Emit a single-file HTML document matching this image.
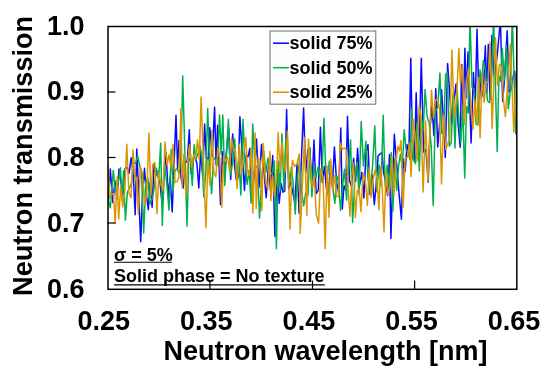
<!DOCTYPE html>
<html><head><meta charset="utf-8">
<style>
html,body{margin:0;padding:0;background:#fff;}
svg{display:block;}
text{font-family:"Liberation Sans",sans-serif;font-weight:bold;fill:#000;}
</style></head><body>
<svg width="550" height="372" viewBox="0 0 550 372">
<rect width="550" height="372" fill="#fff"/>
<defs><clipPath id="pc"><rect x="108" y="26.5" width="408.8" height="262.8"/></clipPath></defs>
<g clip-path="url(#pc)" fill="none" stroke-width="1.5" stroke-linejoin="round">
<polyline stroke="#0a0aff" points="108.0,204.0 108.6,198.9 110.3,169.1 112.9,202.7 114.9,180.7 117.0,199.3 119.0,169.1 121.0,182.1 123.0,194.8 125.1,168.5 127.1,167.4 129.1,173.2 131.1,157.8 133.2,173.8 135.2,214.8 136.8,148.9 140.7,241.7 142.6,192.7 144.5,168.2 146.4,194.4 148.3,209.7 150.2,182.2 152.1,207.2 154.1,164.1 156.1,175.2 158.1,171.1 160.1,183.7 162.1,204.5 164.2,172.6 166.2,153.0 168.2,197.0 170.2,177.0 172.2,211.9 176.0,115.2 177.6,167.9 179.1,140.5 181.1,178.2 183.2,188.0 185.2,162.6 187.3,161.1 189.3,129.8 191.2,173.9 193.1,159.0 195.0,157.0 196.9,163.3 198.8,188.0 200.7,151.9 202.7,176.2 204.6,123.9 206.3,157.3 208.1,160.4 209.8,127.7 212.2,156.2 214.6,107.3 216.1,164.8 217.6,125.2 220.5,204.6 222.5,151.7 224.6,176.5 226.6,149.4 228.6,128.3 230.7,179.4 232.7,134.1 234.5,164.9 236.3,179.6 238.1,177.8 239.9,116.7 244.5,190.5 246.3,154.9 248.0,156.8 249.8,148.3 252.0,201.0 254.3,171.5 256.5,139.1 259.0,187.5 261.5,144.5 266.2,197.7 268.4,166.2 270.5,190.1 272.7,155.6 274.9,236.5 277.0,169.6 279.2,203.3 281.1,183.5 282.9,192.2 284.8,190.9 286.6,109.4 288.7,188.8 290.8,181.9 292.9,192.8 294.9,203.3 297.0,164.7 299.1,213.2 303.6,108.1 305.7,173.0 307.8,150.1 309.8,147.9 311.9,185.7 314.0,140.0 316.1,193.6 318.3,190.4 320.4,127.3 322.4,182.5 324.4,166.6 326.4,188.1 328.4,195.5 330.4,166.2 332.4,186.7 334.4,146.9 336.5,181.6 338.7,192.8 340.8,128.0 342.3,209.0 344.0,185.7 345.8,190.1 347.5,116.3 349.5,180.5 351.5,186.4 353.6,158.2 355.6,181.2 357.6,148.3 359.7,184.8 361.8,172.2 363.9,197.9 366.0,151.7 368.0,144.7 370.1,194.7 372.2,175.2 374.3,204.6 376.2,184.8 378.1,155.9 380.0,153.9 381.9,152.6 383.8,173.3 385.7,181.9 387.6,195.6 389.5,154.5 390.9,238.6 394.3,134.2 398.8,190.7 401.4,219.2 403.3,159.1 405.2,171.4 407.0,144.6 408.9,154.1 410.8,58.3 412.6,157.8 414.4,161.2 416.2,92.8 417.9,152.6 419.6,130.2 421.3,58.3 423.6,152.1 425.9,149.4 428.2,182.3 430.1,127.6 432.0,105.4 433.9,135.4 435.8,88.8 437.7,146.9 439.6,123.4 441.5,89.8 443.4,119.0 445.3,157.5 447.6,63.4 449.7,93.6 451.8,123.9 453.9,100.3 456.0,83.9 458.1,124.2 460.2,147.3 461.6,64.5 463.2,114.9 464.9,48.3 466.4,97.7 468.0,52.1 471.1,142.9 473.4,72.4 475.2,106.7 477.0,29.2 479.1,105.2 481.1,74.6 483.2,96.7 485.3,45.7 486.8,92.8 488.3,44.4 490.1,100.1 491.9,35.3 493.8,75.6 495.7,67.7 497.6,51.2 500.4,20.0 502.7,101.5 504.9,74.0 507.2,30.8 509.1,91.7 511.0,90.3 512.8,77.9 514.7,71.2 516.6,96.6"/>
<polyline stroke="#00b050" points="108.0,199.3 110.3,207.8 113.3,170.4 115.1,189.4 116.9,184.8 118.7,180.3 120.5,167.8 122.0,200.0 123.6,171.0 125.4,220.3 127.4,192.0 129.5,188.0 131.5,183.1 133.5,162.6 135.6,163.2 137.6,156.2 139.6,164.4 141.7,176.9 143.7,233.0 145.8,182.1 147.9,177.8 150.1,204.0 152.2,198.5 154.3,187.9 156.4,168.2 158.6,179.7 160.7,143.2 162.3,225.4 164.5,165.1 166.8,183.0 169.0,210.1 171.2,149.4 173.1,190.4 175.0,170.5 176.9,168.5 178.9,173.3 180.8,161.6 182.7,76.0 187.0,226.3 188.8,158.0 190.6,160.5 192.3,185.5 194.1,144.8 196.0,159.5 198.0,153.0 199.9,145.5 201.9,156.9 203.8,196.9 205.8,172.7 207.7,108.5 209.7,167.0 211.6,193.6 213.6,157.4 215.6,160.0 217.5,164.9 219.5,114.9 221.2,154.1 222.8,114.9 224.8,185.4 228.4,119.3 230.5,175.0 232.6,163.3 234.7,138.9 236.7,180.2 238.8,159.2 240.9,195.1 243.0,119.3 245.0,162.6 247.1,184.5 249.1,170.2 251.1,203.3 252.7,123.9 255.0,164.7 257.3,167.4 259.6,218.1 261.7,178.8 263.8,151.3 265.9,172.4 268.0,158.1 270.1,173.0 272.2,173.7 274.3,161.0 276.4,248.8 278.3,161.2 280.1,190.0 282.0,133.7 283.9,190.1 285.8,138.8 287.7,157.2 289.5,184.6 291.4,167.4 293.3,184.4 295.2,213.9 297.3,177.8 299.4,162.1 301.5,190.2 303.7,206.0 305.8,192.2 307.9,195.7 309.9,150.3 311.9,196.7 313.9,164.8 315.9,177.9 317.9,167.5 319.9,177.2 321.9,179.7 323.9,118.3 325.7,169.2 327.6,174.9 329.4,161.2 331.2,166.8 333.1,190.3 334.9,203.3 336.8,176.0 338.6,181.7 340.5,210.5 342.5,187.2 344.5,169.2 346.6,200.1 348.6,167.4 350.6,140.0 352.6,222.5 354.8,180.7 356.9,162.3 359.1,194.7 361.2,121.6 363.5,166.1 365.9,141.3 368.1,179.8 370.4,192.1 372.6,165.7 374.8,126.0 376.9,191.8 379.0,164.5 381.1,185.9 383.2,115.3 385.2,186.3 387.2,165.3 389.2,185.7 391.2,152.6 392.9,211.0 394.8,158.5 396.7,190.4 398.5,167.5 400.4,154.1 402.3,167.4 404.2,129.7 406.1,149.5 408.0,152.1 409.9,159.5 411.8,108.8 413.6,159.3 415.5,163.6 417.4,121.6 419.3,171.0 421.2,117.9 423.2,130.0 425.1,89.5 427.1,116.5 429.1,122.4 431.2,145.6 433.2,205.4 435.4,110.6 437.7,107.7 439.9,73.1 441.8,133.5 443.7,129.2 445.6,74.6 447.4,72.1 449.3,146.2 451.2,142.9 453.1,94.1 455.0,148.0 456.9,86.6 458.9,119.7 460.8,142.7 462.8,106.4 464.7,177.9 466.5,106.8 468.2,113.0 470.0,18.0 472.0,87.0 474.0,89.2 476.0,124.3 478.0,124.9 480.0,69.8 481.6,83.6 483.3,60.5 485.4,69.6 487.4,100.7 489.5,102.6 491.5,82.9 493.6,16.0 497.2,151.6 498.9,76.1 500.6,81.6 502.3,48.6 504.3,80.2 506.3,45.5 508.3,108.8 510.3,91.6 512.3,18.0 515.8,134.0 516.6,76.9"/>
<polyline stroke="#dc9600" points="108.0,162.0 109.8,196.9 111.6,194.3 113.4,193.5 115.2,223.3 117.1,177.0 118.7,219.0 120.7,186.5 122.8,206.9 124.8,189.8 126.8,144.3 128.9,192.8 131.0,197.8 133.1,149.9 134.8,179.9 136.6,177.3 138.3,214.2 140.4,166.9 142.5,174.0 144.7,205.1 146.8,193.9 148.9,133.0 150.9,195.2 152.9,164.3 154.9,162.6 156.9,213.5 158.9,172.3 160.9,184.8 163.0,190.5 165.0,141.9 167.0,165.3 169.0,154.8 171.0,168.0 173.0,144.4 175.0,182.4 177.0,181.6 178.9,176.9 180.9,108.4 182.2,188.0 184.0,153.8 185.9,196.6 187.8,160.7 189.6,144.8 191.6,167.4 193.6,155.0 195.5,158.4 197.5,139.7 199.3,159.9 201.1,97.0 205.9,227.6 207.9,159.2 209.9,185.1 211.9,130.6 213.9,173.1 215.8,176.7 217.8,148.0 219.8,158.3 221.8,207.2 223.7,156.2 225.7,161.2 227.6,157.5 229.6,171.6 231.5,137.9 233.4,150.5 235.2,149.0 237.1,188.5 239.3,144.5 241.4,173.8 243.6,154.3 245.8,137.5 247.6,172.6 249.4,175.2 251.1,148.2 252.9,213.0 255.2,132.9 256.2,208.4 258.1,158.0 260.0,160.3 261.9,210.5 263.2,143.2 265.5,181.6 267.7,189.6 270.0,151.5 270.8,200.8 272.6,175.8 274.5,196.6 276.4,179.6 278.2,132.4 280.0,172.2 281.9,141.7 283.7,162.4 285.6,171.8 287.4,131.1 290.0,228.9 292.3,160.5 294.6,166.6 296.9,163.6 299.2,154.1 300.2,233.5 304.5,137.5 306.8,215.4 308.4,139.3 310.4,165.7 312.4,187.3 314.3,177.3 316.3,214.0 318.6,223.3 320.8,168.7 323.0,177.1 325.2,248.8 327.1,166.1 329.1,217.4 330.6,159.2 332.5,189.2 334.5,175.8 336.4,196.5 338.4,196.7 340.3,142.9 342.2,149.4 344.2,147.9 346.1,149.4 348.1,188.8 350.0,216.1 351.8,176.5 353.6,163.1 355.4,217.4 357.3,190.3 359.1,188.7 361.0,211.8 363.1,173.0 365.3,180.6 367.4,205.4 369.3,167.7 371.2,197.4 373.1,179.4 375.1,169.8 377.0,176.7 378.9,209.7 380.6,166.8 382.3,189.3 384.0,231.9 386.0,171.1 387.9,195.0 389.9,187.3 391.9,156.5 393.9,195.9 395.8,163.8 397.8,146.3 399.4,151.0 401.0,140.5 403.1,207.2 405.2,158.1 407.4,157.5 409.5,143.0 411.1,176.6 413.1,118.9 415.1,134.9 417.1,160.9 419.1,106.2 421.1,116.1 423.1,192.0 425.5,120.9 427.9,181.6 431.5,90.3 433.5,117.9 435.5,100.8 437.5,98.0 439.5,109.2 441.5,184.0 443.6,115.6 445.7,149.4 447.7,144.0 449.8,136.8 451.9,50.1 454.2,117.3 456.5,100.1 458.8,48.2 460.5,84.0 462.2,64.7 464.3,124.4 466.5,81.6 468.6,68.0 470.8,105.9 472.9,129.4 474.8,100.1 476.6,124.8 478.5,77.5 480.1,137.8 482.1,73.4 484.1,102.6 486.0,83.1 488.0,82.0 490.0,42.3 492.1,128.6 495.5,37.8 497.5,85.1 499.5,64.3 501.4,66.3 503.4,99.8 505.4,116.6 510.4,44.2 513.8,131.9 516.6,74.4"/>
</g>
<rect x="108" y="26.5" width="408.8" height="262.8" fill="none" stroke="#000" stroke-width="1.5"/>
<g stroke="#000" stroke-width="1.2">
<line x1="107" y1="92" x2="115.5" y2="92"/><line x1="107" y1="157.5" x2="115.5" y2="157.5"/><line x1="107" y1="223" x2="115.5" y2="223"/>
<line x1="209.9" y1="289" x2="209.9" y2="280.3"/><line x1="312.5" y1="289" x2="312.5" y2="280.5"/><line x1="414.6" y1="289" x2="414.6" y2="280.5"/>
</g>
<g font-size="27" text-anchor="end" transform="translate(0.5,0)">
<text x="84" y="34.5">1.0</text><text x="84" y="100.3">0.9</text><text x="84" y="166.1">0.8</text><text x="84" y="231.9">0.7</text><text x="84" y="297.7">0.6</text>
</g>
<g font-size="27" text-anchor="middle">
<text x="103.7" y="330">0.25</text><text x="206.3" y="330">0.35</text><text x="308.9" y="330">0.45</text><text x="411.5" y="330">0.55</text><text x="514.1" y="330">0.65</text>
</g>
<text x="325.5" y="360" font-size="27" text-anchor="middle">Neutron wavelength [nm]</text>
<text transform="translate(32,155.9) rotate(-90)" font-size="27.1" text-anchor="middle">Neutron transmission</text>
<rect x="270" y="31" width="105.8" height="73.2" fill="#fdfdfd" stroke="#6e6e6e" stroke-width="1"/>
<g stroke-width="1.5"><line x1="273" y1="43.2" x2="289" y2="43.2" stroke="#0000ff"/><line x1="273" y1="67.7" x2="289" y2="67.7" stroke="#00b050"/><line x1="273" y1="92.2" x2="289" y2="92.2" stroke="#d89000"/></g>
<g font-size="18"><text x="289.4" y="49.2">solid 75%</text><text x="289.4" y="73.6">solid 50%</text><text x="289.4" y="98">solid 25%</text></g>
<g font-size="18"><text x="114" y="260.5">σ = 5%</text><text x="114" y="282.4">Solid phase = No texture</text></g>
<g stroke="#000" stroke-width="1.15"><line x1="114" y1="262.2" x2="171.8" y2="262.2"/><line x1="114" y1="284.9" x2="324.8" y2="284.9"/></g>
</svg>
</body></html>
